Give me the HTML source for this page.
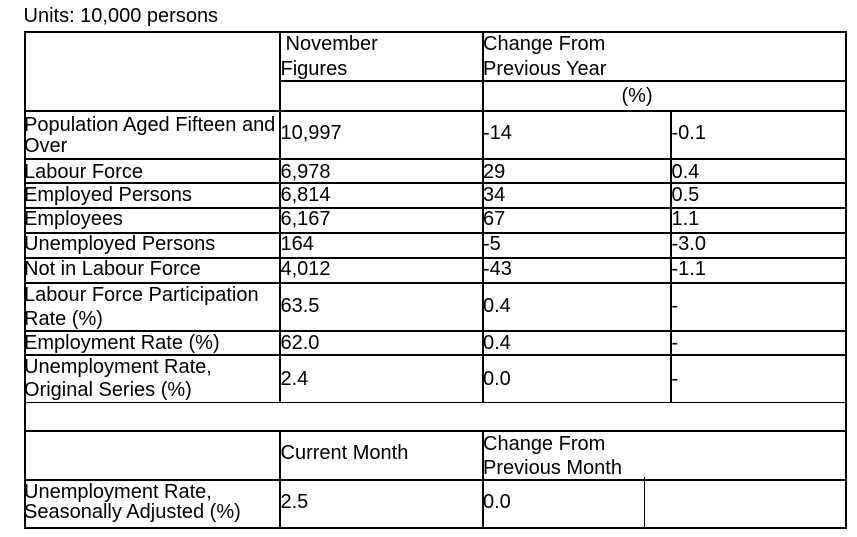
<!DOCTYPE html>
<html>
<head>
<meta charset="utf-8">
<style>
html,body{margin:0;padding:0;background:#fff;}
#c{position:relative;width:857px;height:537px;overflow:hidden;background:#fff;}
.t{position:absolute;font-family:"Liberation Sans",Arial,sans-serif;font-size:20px;line-height:23px;white-space:nowrap;color:#000;}
.l{position:absolute;background:#000;}
</style>
</head>
<body>
<div id="c">
<!-- lines -->
<div class="l" style="left:24px;top:31px;width:823px;height:2px"></div>
<div class="l" style="left:24px;top:31px;width:2px;height:498px"></div>
<div class="l" style="left:845px;top:31px;width:2px;height:371px"></div>
<div class="l" style="left:845px;top:402px;width:1.5px;height:127px"></div>
<div class="l" style="left:279px;top:31px;width:2px;height:371px"></div>
<div class="l" style="left:279px;top:430px;width:2px;height:99px"></div>
<div class="l" style="left:482px;top:31px;width:2px;height:371px"></div>
<div class="l" style="left:482px;top:430px;width:2px;height:99px"></div>
<div class="l" style="left:670px;top:110px;width:2px;height:292px"></div>
<div class="l" style="left:644px;top:477px;width:1px;height:52px"></div>

<div class="l" style="left:279px;top:80px;width:568px;height:2px"></div>
<div class="l" style="left:24px;top:109.5px;width:823px;height:2px"></div>
<div class="l" style="left:24px;top:157.5px;width:823px;height:2px"></div>
<div class="l" style="left:24px;top:182px;width:823px;height:2px"></div>
<div class="l" style="left:24px;top:207px;width:823px;height:2px"></div>
<div class="l" style="left:24px;top:232px;width:823px;height:2px"></div>
<div class="l" style="left:24px;top:257px;width:823px;height:2px"></div>
<div class="l" style="left:24px;top:281.5px;width:823px;height:2px"></div>
<div class="l" style="left:24px;top:329.5px;width:823px;height:2px"></div>
<div class="l" style="left:24px;top:354px;width:823px;height:2px"></div>
<div class="l" style="left:24px;top:402px;width:823px;height:1px"></div>
<div class="l" style="left:24px;top:430px;width:823px;height:1.5px"></div>
<div class="l" style="left:24px;top:479px;width:823px;height:2px"></div>
<div class="l" style="left:24px;top:527px;width:823px;height:2px"></div>

<!-- text -->
<div class="t" style="left:23.5px;top:4.9px">Units: 10,000 persons</div>

<div class="t" style="left:285.5px;top:33.2px">November</div>
<div class="t" style="left:280.5px;top:58.2px">Figures</div>
<div class="t" style="left:483px;top:33.2px">Change From</div>
<div class="t" style="left:483px;top:58.2px">Previous Year</div>
<div class="t" style="left:621.5px;top:84.8px">(%)</div>

<div class="t" style="left:24px;top:113.9px">Population Aged Fifteen and</div>
<div class="t" style="left:24px;top:134.6px">Over</div>
<div class="t" style="left:280.5px;top:121.6px">10,997</div>
<div class="t" style="left:483px;top:121.6px">-14</div>
<div class="t" style="left:671.5px;top:121.6px">-0.1</div>

<div class="t" style="left:24px;top:160.8px">Labour Force</div>
<div class="t" style="left:280.5px;top:160.8px">6,978</div>
<div class="t" style="left:483px;top:160.8px">29</div>
<div class="t" style="left:671.5px;top:160.8px">0.4</div>

<div class="t" style="left:24px;top:184.2px">Employed Persons</div>
<div class="t" style="left:280.5px;top:184.2px">6,814</div>
<div class="t" style="left:483px;top:184.2px">34</div>
<div class="t" style="left:671.5px;top:184.2px">0.5</div>

<div class="t" style="left:24px;top:208.2px">Employees</div>
<div class="t" style="left:280.5px;top:208.2px">6,167</div>
<div class="t" style="left:483px;top:208.2px">67</div>
<div class="t" style="left:671.5px;top:208.2px">1.1</div>

<div class="t" style="left:24px;top:233.2px">Unemployed Persons</div>
<div class="t" style="left:280.5px;top:233.2px">164</div>
<div class="t" style="left:483px;top:233.2px">-5</div>
<div class="t" style="left:671.5px;top:233.2px">-3.0</div>

<div class="t" style="left:24px;top:258.3px">Not in Labour Force</div>
<div class="t" style="left:280.5px;top:258.3px">4,012</div>
<div class="t" style="left:483px;top:258.3px">-43</div>
<div class="t" style="left:671.5px;top:258.3px">-1.1</div>

<div class="t" style="left:24px;top:284.2px">Labour Force Participation</div>
<div class="t" style="left:24px;top:307.6px">Rate (%)</div>
<div class="t" style="left:280.5px;top:295.2px">63.5</div>
<div class="t" style="left:483px;top:295.2px">0.4</div>
<div class="t" style="left:671.5px;top:295.2px">-</div>

<div class="t" style="left:24px;top:332.3px">Employment Rate (%)</div>
<div class="t" style="left:280.5px;top:332.3px">62.0</div>
<div class="t" style="left:483px;top:332.3px">0.4</div>
<div class="t" style="left:671.5px;top:332.3px">-</div>

<div class="t" style="left:24px;top:355.6px">Unemployment Rate,</div>
<div class="t" style="left:24px;top:379.1px">Original Series (%)</div>
<div class="t" style="left:280.5px;top:368.3px">2.4</div>
<div class="t" style="left:483px;top:368.3px">0.0</div>
<div class="t" style="left:671.5px;top:368.3px">-</div>

<div class="t" style="left:280.5px;top:442.3px">Current Month</div>
<div class="t" style="left:483px;top:432.6px">Change From</div>
<div class="t" style="left:483px;top:456.6px">Previous Month</div>

<div class="t" style="left:24px;top:480.6px">Unemployment Rate,</div>
<div class="t" style="left:24px;top:500.6px">Seasonally Adjusted (%)</div>
<div class="t" style="left:280.5px;top:490.9px">2.5</div>
<div class="t" style="left:483px;top:490.9px">0.0</div>
</div>
</body>
</html>
